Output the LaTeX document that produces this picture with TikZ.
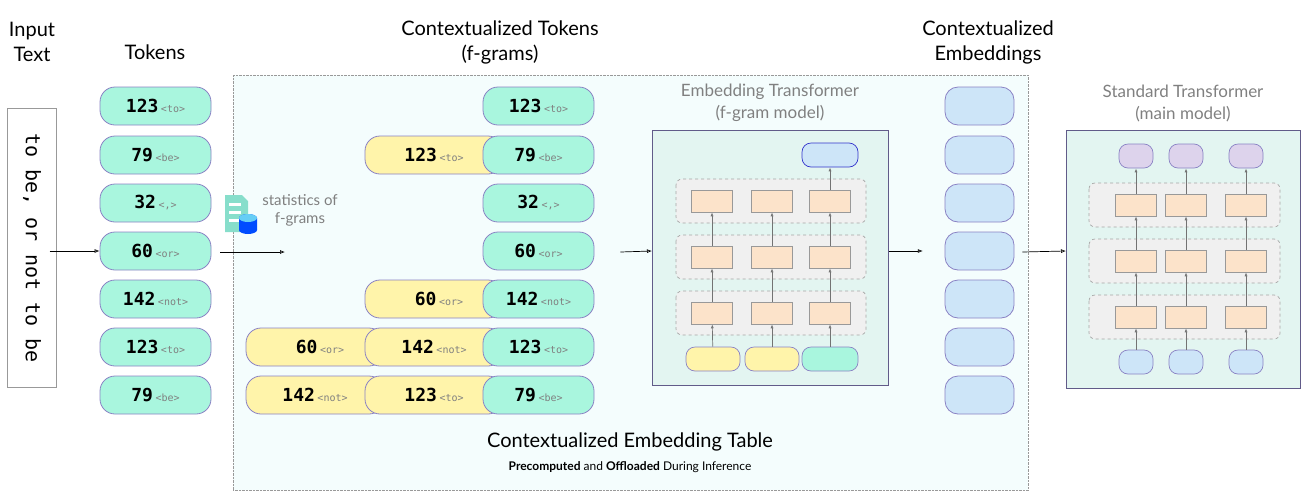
\documentclass[tikz,border=0pt]{standalone}
\usepackage{fontspec}
\setmainfont{Lato}
\newfontfamily\monof{DejaVu Sans Mono}
\usetikzlibrary{arrows.meta,positioning}
\definecolor{tokaqua}{HTML}{A9F6DE}
\definecolor{tokyellow}{HTML}{FFF4AA}
\definecolor{tokborder}{HTML}{8A82C4}
\definecolor{embblue}{HTML}{CDE5F8}
\definecolor{outpurple}{HTML}{DDD3EC}
\definecolor{layerorange}{HTML}{FCE3CA}
\definecolor{modelbg}{HTML}{E3F5F1}
\definecolor{tablebg}{HTML}{F4FDFD}
\definecolor{titlegray}{HTML}{808080}
\begin{document}
\begin{tikzpicture}[x=1pt,y=-1pt,>={Latex[open,length=5pt,width=4pt]}]
	%define styles
	\tikzset{
		title/.style={font=\fontsize{20}{25}\selectfont, align=center},
		subtitle/.style={font=\fontsize{17}{22}\selectfont, text=titlegray, align=center},
		pill/.style={draw=tokborder, rounded corners=15pt, minimum height=38pt, line width=0.8pt},
		token/.style={pill, fill=tokaqua, minimum width=111pt},
		ftoken/.style={pill, fill=tokyellow, minimum width=138pt},
		emb/.style={pill, fill=embblue, minimum width=69pt, rounded corners=13pt},
		layer/.style={draw=gray!80, fill=layerorange, minimum width=41pt, minimum height=22pt, line width=0.5pt},
		group/.style={draw=gray!70, dashed, fill=gray!12, rounded corners=6pt, line width=0.7pt},
		small/.style={draw=tokborder, rounded corners=9pt, minimum width=34pt, minimum height=24pt, line width=0.7pt},
		flow/.style={->, line width=0.7pt},
		up/.style={->, gray!90!black, line width=0.7pt, >={Latex[open,length=4pt,width=3pt]}},
	}
	\newcommand{\tok}[2]{{\monof\bfseries\fontsize{18}{20}\selectfont #1}~{\monof\fontsize{10}{11}\selectfont\color{titlegray}<#2>}}
	\useasboundingbox (0,0) rectangle (1314,499);
	%background table
	\node[draw=gray!80, densely dotted, fill=tablebg, minimum width=795pt, minimum height=415pt, anchor=north west] (table) at (233,75) {};
	%titles
	\node[title] (intitle) at (32,42) {Input\\Text};
	\node[title] (toktitle) at (155,52) {Tokens};
	\node[title] (ctxtitle) at (500,42) {Contextualized Tokens\\(f-grams)};
	\node[title] (embtitle) at (988,42) {Contextualized\\Embeddings};
	\node[subtitle] (ettitle) at (770,103) {Embedding Transformer\\(f-gram model)};
	\node[subtitle] (sttitle) at (1183,103) {Standard Transformer\\(main model)};
	%input text
	\node[draw=gray!80, fill=white, minimum width=49pt, minimum height=279pt] (input) at (32,248) {};
	\node[rotate=-90, font=\monof\fontsize{20}{22}\selectfont] at (input) {to be, or not to be};
	%tokens
	\foreach \n/\t/\y [count=\i] in {123/to/106, 79/be/155, 32/{,}/203, 60/or/251, 142/not/299, 123/to/347, 79/be/395}
		\node[token] (t\i) at (155.5,\y) {\tok{\n}{\t}};
	%f-gram tokens
	\node[ftoken] (f2a) at (434,155) {\tok{123}{to}\hspace{20pt}};
	\node[ftoken] (f5a) at (434,299) {\hspace{10pt}\tok{60}{or}\hspace{20pt}};
	\node[ftoken] (f6b) at (315,347) {\hspace{10pt}\tok{60}{or}\hspace{20pt}};
	\node[ftoken] (f6a) at (434,347) {\tok{142}{not}\hspace{20pt}};
	\node[ftoken] (f7b) at (315,395) {\tok{142}{not}\hspace{20pt}};
	\node[ftoken] (f7a) at (434,395) {\tok{123}{to}\hspace{20pt}};
	\foreach \n/\t/\y [count=\i] in {123/to/106, 79/be/155, 32/{,}/203, 60/or/251, 142/not/299, 123/to/347, 79/be/395}
		\node[token] (c\i) at (538.5,\y) {\tok{\n}{\t}};
	%statistics icon
	\fill[tokaqua!80!teal] (225,195) -- (242,195) -- (248,201) -- (248,232) -- (225,232) -- cycle;
	\foreach \yy in {203,211,219} \fill[white] (229,\yy) rectangle (241,\yy+3);
	\fill[blue!70!cyan] (248,218) ellipse (9pt and 4pt) -- (239,218) rectangle (257,230);
	\fill[blue!70!cyan] (248,230) ellipse (9pt and 4pt);
	\fill[cyan!60] (248,218) ellipse (9pt and 4pt);
	\node[font=\fontsize{15}{18}\selectfont, text=titlegray, align=center] (stats) at (300,210) {statistics of\\f-grams};
	\coordinate (statsin) at (285,252);
	%embedding transformer
	\node[draw=tokborder!70!black, fill=modelbg, minimum width=236pt, minimum height=255pt, anchor=north west, line width=0.8pt] (et) at (652,130) {};
	\foreach \y in {201,257,313}
		\draw[group] (676,\y-22) rectangle (866,\y+22);
	\foreach \x [count=\j] in {712,772,830} {
		\node[layer] (ea\j) at (\x,201) {};
		\node[layer] (eb\j) at (\x,257) {};
		\node[layer] (ec\j) at (\x,313) {};
	}
	\node[small, fill=tokyellow, minimum width=54pt] (ein1) at (713,359) {};
	\node[small, fill=tokyellow, minimum width=54pt] (ein2) at (772,359) {};
	\node[small, fill=tokaqua, minimum width=56pt] (ein3) at (830,359) {};
	\node[small, fill=embblue, minimum width=56pt, draw=blue!60!gray] (eout) at (830,155) {};
	\foreach \j in {1,2,3} {
		\draw[up] (ein\j) -- (ec\j);
		\draw[up] (ec\j) -- (eb\j);
		\draw[up] (eb\j) -- (ea\j);
	}
	\draw[up] (ea3) -- (eout);
	%contextualized embeddings
	\foreach \y [count=\i] in {106,155,203,251,299,347,395}
		\node[emb] (e\i) at (979.5,\y) {};
	%standard transformer
	\node[draw=tokborder!70!black, fill=modelbg, minimum width=234pt, minimum height=258pt, anchor=north west, line width=0.8pt] (st) at (1066,130) {};
	\foreach \y in {205,261,317}
		\draw[group] (1089,\y-22) rectangle (1280,\y+22);
	\foreach \x [count=\j] in {1136,1186,1246} {
		\node[layer] (sa\j) at (\x,205) {};
		\node[layer] (sb\j) at (\x,261) {};
		\node[layer] (sc\j) at (\x,317) {};
		\node[small, fill=embblue] (sin\j) at (\x,362) {};
		\node[small, fill=outpurple] (sout\j) at (\x,156) {};
		\draw[up] (sin\j) -- (sc\j);
		\draw[up] (sc\j) -- (sb\j);
		\draw[up] (sb\j) -- (sa\j);
		\draw[up] (sa\j) -- (sout\j);
	}
	%bottom caption
	\node[font=\fontsize{20}{24}\selectfont] (cap) at (630,442) {Contextualized Embedding Table};
	\node[font=\fontsize{12}{14}\selectfont] (cap2) at (630,467) {\textbf{Precomputed} and \textbf{Offloaded} During Inference};
	%arrows
	\draw[flow] (input.east) ++(-7,3) -- (t4);
	\draw[flow] (t4.east) ++(9,1) -- (statsin);
	\draw[flow] (c4.east) ++(26,1) -- (et.west |- c4);
	\draw[flow] (et.east |- e4) -- ++(34,0);
	\draw[flow] (e4.east) ++(8,1) -- (st.west |- e4);
\end{tikzpicture}
\end{document}
